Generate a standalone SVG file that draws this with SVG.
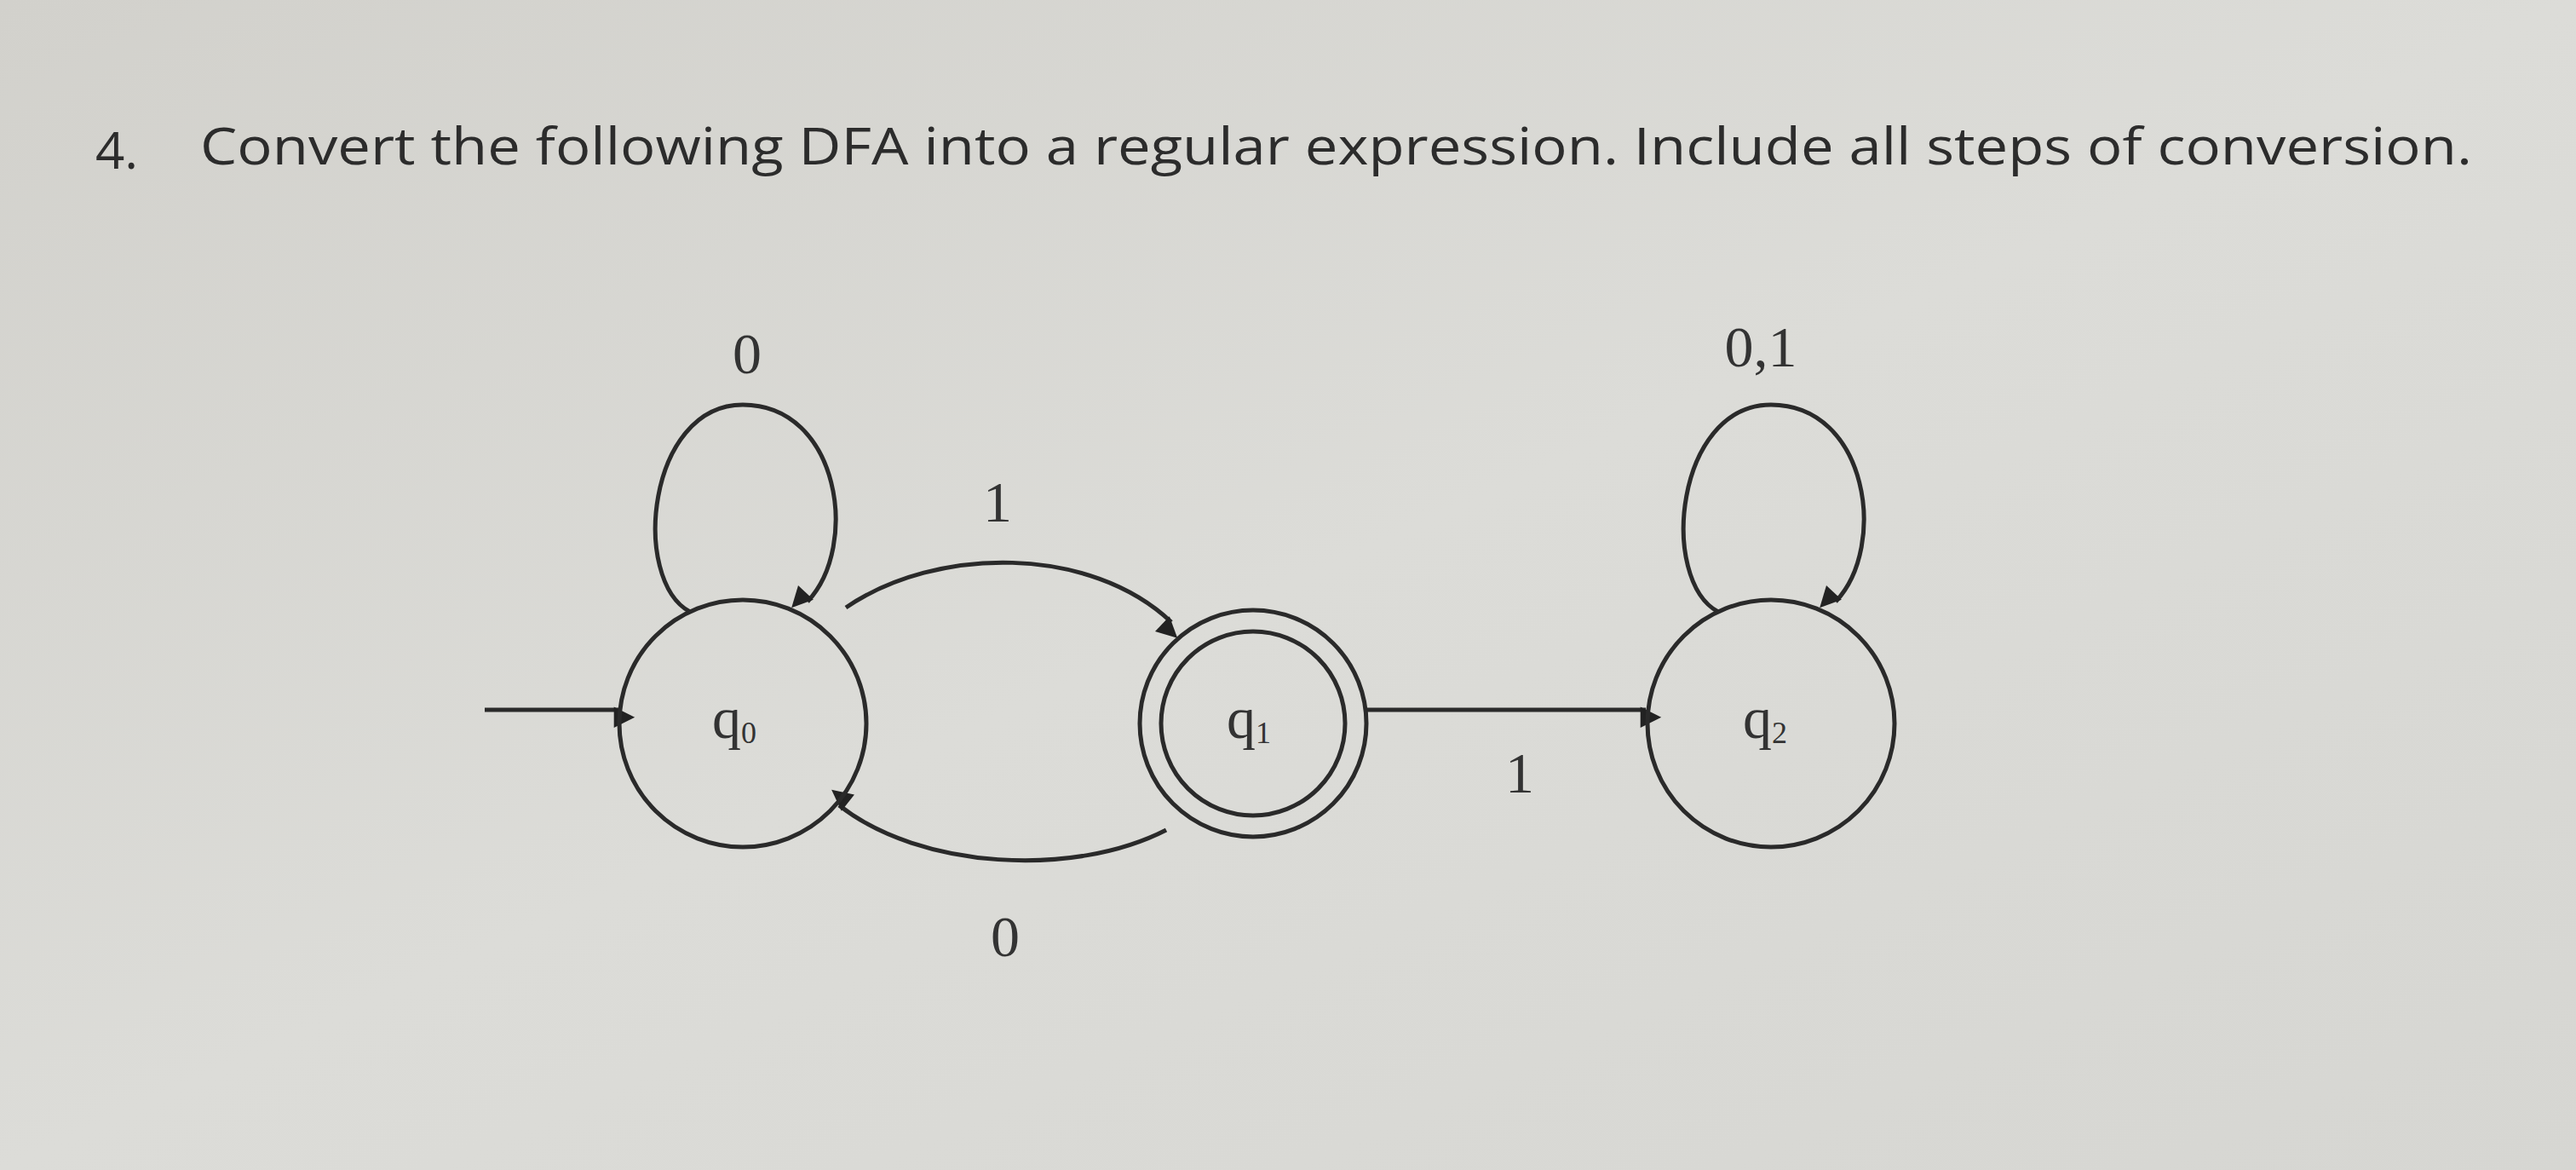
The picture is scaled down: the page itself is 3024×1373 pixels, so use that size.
<svg xmlns="http://www.w3.org/2000/svg" width="3024" height="1373" viewBox="0 0 3024 1373">
<defs>
<marker id="ah" viewBox="0 0 10 10" refX="9" refY="5" markerWidth="7" markerHeight="7" orient="auto" markerUnits="userSpaceOnUse" style="overflow:visible"><path d="M0,0 L10,5 L0,10 z" fill="#222" transform="scale(3.5)" /></marker>
<linearGradient id="bg" x1="0" y1="0" x2="1" y2="1"><stop offset="0" stop-color="#d2d1cc"/><stop offset="0.5" stop-color="#dcdcd8"/><stop offset="1" stop-color="#d6d6d2"/></linearGradient>
</defs>
<style>
.st{fill:none;stroke:#2a2a2a;stroke-width:5}
.lb{font-family:"Liberation Serif",serif;font-size:68px;fill:#333;text-anchor:middle}
.ti{font-family:"Open Sans","Liberation Sans",sans-serif;font-size:60px;fill:#2c2c2c}
</style>
<rect width="3024" height="1373" fill="url(#bg)"/>
<text class="ti" x="112" y="198">4.</text>
<text class="ti" x="235" y="193" textLength="2667" lengthAdjust="spacingAndGlyphs">Convert the following DFA into a regular expression. Include all steps of conversion.</text>
<g id="edges">
<path class="st" d="M569,833 L727,833" marker-end="url(#ah)"/>
<path class="st" d="M810,718 C740,680 760,475 872,475 C985,475 1010,640 948,706" marker-end="url(#ah)"/>
<path class="st" d="M993,713 C1100,640 1280,640 1375,730" marker-end="url(#ah)"/>
<path class="st" d="M1369,974 C1260,1030 1080,1020 985,945" marker-end="url(#ah)"/>
<path class="st" d="M1604,833 L1932,833" marker-end="url(#ah)"/>
<path class="st" d="M2017,718 C1947,680 1967,475 2079,475 C2192,475 2217,640 2155,706" marker-end="url(#ah)"/>
<text class="lb" x="877" y="438">0</text>
<text class="lb" x="2067" y="430">0,1</text>
<text class="lb" x="1171" y="612">1</text>
<text class="lb" x="1180" y="1122">0</text>
<text class="lb" x="1784" y="930">1</text>
</g>
<g id="q0"><circle class="st" cx="872" cy="849" r="145"/><text class="lb" x="862" y="866">q<tspan font-size="36" dy="6">0</tspan></text></g>
<g id="q1"><circle class="st" cx="1471" cy="849" r="133"/><circle class="st" cx="1471" cy="849" r="108"/><text class="lb" x="1466" y="866">q<tspan font-size="36" dy="6">1</tspan></text></g>
<g id="q2"><circle class="st" cx="2079" cy="849" r="145"/><text class="lb" x="2072" y="866">q<tspan font-size="36" dy="6">2</tspan></text></g>
</svg>
